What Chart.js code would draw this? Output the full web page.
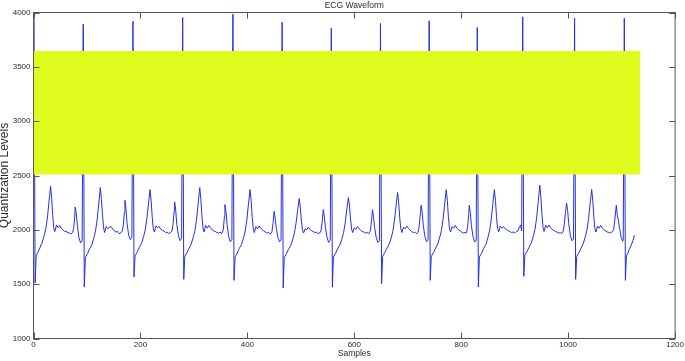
<!DOCTYPE html>
<html>
<head>
<meta charset="utf-8">
<title>ECG Waveform</title>
<script src="https://cdn.jsdelivr.net/npm/chart.js@4.4.1/dist/chart.umd.min.js"></script>
<style>
  html, body { margin: 0; padding: 0; background: #fff; }
  #wrap { width: 685px; height: 361px; }
</style>
</head>
<body>
<div id="wrap"><canvas id="myChart" width="685" height="361"></canvas></div>
<script>
// texts and tick labels
const chartTitle = 'ECG Waveform'
const xTitle = 'Samples'
const yTitle = 'Quantization Levels'
const xTicks = [0, 200, 400, 600, 800, 1000, 1200]
const yTicks = [1000, 1500, 2000, 2500, 3000, 3500, 4000]

// yellow block that hides the upper part of the trace
const boxFrom = 0
const boxTo = 1135
const boxTop = 3645
const boxBottom = 2510

// ECG trace: [sample, level]
const beat01 = [[1,3945],[3,1510],[5,1760],[8,1790],[12,1835],[16,1880],[20,1950],[23,2010],[26,2110],[29,2260],[32,2400],[34,2290],[36,2130],[38,2010],[40,1985],[43,2045],[46,2020],[49,2040],[52,2015],[55,2000],[58,1985],[61,1990],[64,1970],[67,1975],[70,1960],[73,1975],[75,2010],[77,2110],[78,2210],[80,2150],[82,2040],[85,1930],[88,1880],[91,1900]]
const beat02 = [[93,3892],[95,1473],[97,1745],[101,1780],[105,1825],[109,1860],[113,1930],[116,1990],[119,2090],[122,2240],[125,2389],[127,2280],[129,2140],[131,2020],[133,1975],[136,2030],[139,2010],[142,2025],[145,2030],[148,2010],[151,1990],[154,1980],[157,1985],[160,1965],[163,1970],[166,1990],[168,2040],[170,2160],[171,2272],[173,2190],[175,2060],[178,1950],[181,1910],[184,1930]]
const beat03 = [[186,3920],[188,1565],[190,1760],[194,1795],[198,1840],[202,1875],[206,1940],[209,2000],[212,2100],[215,2240],[218,2370],[220,2270],[222,2120],[224,2010],[226,1980],[229,2035],[232,2020],[235,2030],[238,2005],[241,1995],[244,1990],[247,1975],[250,1980],[253,1965],[256,1975],[259,1990],[261,2050],[263,2170],[264,2256],[266,2180],[268,2050],[271,1950],[274,1900],[277,1920]]
const beat04 = [[279,3954],[281,1544],[283,1755],[287,1790],[291,1830],[295,1870],[299,1935],[302,1995],[305,2095],[308,2245],[311,2389],[313,2280],[315,2130],[317,2015],[319,1980],[322,2040],[325,2015],[328,2040],[331,2020],[334,2000],[337,1990],[340,1985],[343,1975],[346,1970],[349,1980],[352,1965],[355,2000],[357,2120],[358,2232],[360,2170],[362,2050],[365,1940],[368,1890],[371,1910]]
const beat05 = [[373,3984],[375,1535],[377,1750],[381,1785],[385,1830],[389,1865],[393,1930],[396,1990],[399,2090],[402,2235],[405,2370],[407,2270],[409,2120],[411,2010],[413,1975],[416,2030],[419,2010],[422,2035],[425,2015],[428,2000],[431,1985],[434,1980],[437,1970],[440,1975],[443,1960],[446,1985],[448,2060],[450,2170],[452,2110],[454,2020],[457,1930],[460,1890],[463,1910]]
const beat06 = [[465,3911],[467,1464],[469,1745],[473,1780],[477,1820],[481,1855],[485,1915],[488,1970],[491,2060],[494,2180],[497,2287],[499,2210],[501,2090],[503,2000],[505,1970],[508,2010],[511,2000],[514,2025],[517,2005],[520,1990],[523,1985],[526,1975],[529,1980],[532,1965],[535,1970],[538,1995],[540,2080],[542,2186],[544,2120],[546,2020],[549,1930],[552,1885],[555,1905]]
const beat07 = [[557,3855],[559,1473],[561,1750],[565,1785],[569,1825],[573,1860],[577,1920],[580,1975],[583,2065],[586,2190],[589,2297],[591,2220],[593,2100],[595,2005],[597,1975],[600,2020],[603,2005],[606,2030],[609,2010],[612,1995],[615,1985],[618,1980],[621,1970],[624,1975],[627,1965],[630,1990],[632,2070],[634,2186],[636,2120],[638,2020],[641,1930],[644,1885],[647,1900]]
const beat08 = [[649,3899],[651,1504],[653,1755],[657,1790],[661,1830],[665,1865],[669,1925],[672,1985],[675,2080],[678,2215],[681,2343],[683,2250],[685,2110],[687,2010],[689,1975],[692,2025],[695,2010],[698,2035],[701,2015],[704,2000],[707,1985],[710,1975],[713,1980],[716,1965],[719,1975],[721,2020],[723,2120],[725,2226],[727,2160],[729,2040],[732,1940],[735,1890],[738,1905]]
const beat09 = [[740,3923],[742,1535],[744,1755],[748,1790],[752,1830],[756,1870],[760,1935],[763,1995],[766,2095],[769,2240],[772,2370],[774,2270],[776,2120],[778,2010],[780,1980],[783,2030],[786,2015],[789,2040],[792,2015],[795,2000],[798,1990],[801,1980],[804,1970],[807,1975],[810,1975],[812,2030],[814,2140],[815,2226],[817,2160],[819,2040],[822,1940],[825,1890],[828,1900]]
const beat10 = [[830,3862],[832,1473],[834,1750],[838,1785],[842,1830],[846,1865],[850,1930],[853,1990],[856,2090],[859,2235],[862,2370],[864,2270],[866,2120],[868,2010],[870,1980],[873,2035],[876,2015],[879,2030],[882,2010],[885,2000],[888,1990],[891,1985],[894,1975],[897,1980],[900,1970],[903,1985],[906,1990],[909,2030],[911,2045],[913,1990]]
const beat11 = [[915,3960],[917,1572],[919,1770],[923,1800],[927,1840],[931,1880],[935,1945],[938,2005],[941,2110],[944,2260],[947,2410],[949,2300],[951,2140],[953,2020],[955,1985],[958,2040],[961,2020],[964,2045],[967,2020],[970,2005],[973,1995],[976,1985],[979,1980],[982,1970],[985,1975],[988,1965],[991,1990],[993,2060],[995,2160],[997,2247],[999,2180],[1001,2060],[1004,1950],[1007,1900],[1010,1915]]
const beat12 = [[1012,3948],[1014,1544],[1016,1755],[1020,1790],[1024,1830],[1028,1870],[1032,1935],[1035,1995],[1038,2095],[1041,2240],[1044,2370],[1046,2270],[1048,2120],[1050,2010],[1052,1980],[1055,2035],[1058,2015],[1061,2040],[1064,2015],[1067,2000],[1070,1990],[1073,1980],[1076,1975],[1079,1970],[1082,1980],[1085,2000],[1087,2080],[1090,2226],[1092,2130],[1094,2085],[1096,2020],[1099,1930],[1102,1895],[1103,1905]]
const beat13 = [[1105,3948],[1107,1535],[1109,1760],[1112,1790],[1115,1830],[1118,1860],[1121,1900],[1124,1950]]

const beats = [beat01, beat02, beat03, beat04, beat05, beat06, beat07, beat08, beat09, beat10, beat11, beat12, beat13]
const ecgPoints = []
beats.forEach(b => b.forEach(p => ecgPoints.push({x: p[0], y: p[1]})))

const fontFamily = '"Liberation Sans", Arial, Helvetica, sans-serif'
const axisColor = '#555'
const textColor = '#2b2b2b'

// matlab style box with inward ticks, plus the title over the plot
const frame = {
  id: 'frame',
  afterDraw(chart) {
    const {ctx, chartArea: a, scales} = chart
    const tick = 6
    ctx.save()
    ctx.strokeStyle = axisColor
    ctx.lineWidth = 1
    ctx.strokeRect(a.left, a.top, a.right - a.left, a.bottom - a.top)
    ctx.beginPath()
    xTicks.forEach(v => {
      const px = Math.round(scales.x.getPixelForValue(v)) + 0.5
      ctx.moveTo(px, a.bottom); ctx.lineTo(px, a.bottom - tick)
      ctx.moveTo(px, a.top); ctx.lineTo(px, a.top + tick)
    })
    yTicks.forEach(v => {
      const py = Math.round(scales.y.getPixelForValue(v)) + 0.5
      ctx.moveTo(a.left, py); ctx.lineTo(a.left + tick, py)
      ctx.moveTo(a.right, py); ctx.lineTo(a.right - tick, py)
    })
    ctx.stroke()

    ctx.fillStyle = textColor
    ctx.font = '8.5px ' + fontFamily
    ctx.textAlign = 'center'
    ctx.textBaseline = 'middle'
    ctx.fillText(chartTitle, (a.left + a.right) / 2, 5.5)
    ctx.restore()
  }
}

const config = {
  data: {
    datasets: [
      {
        type: 'line',
        label: 'mask',
        data: [{x: boxFrom, y: boxTop}, {x: boxTo, y: boxTop}],
        borderWidth: 0,
        borderColor: 'rgba(0,0,0,0)',
        backgroundColor: 'rgb(224,252,30)',
        fill: {value: boxBottom},
        pointRadius: 0,
        order: 1
      },
      {
        type: 'line',
        label: 'ECG',
        data: ecgPoints,
        borderColor: 'rgb(36,48,226)',
        borderWidth: 1,
        pointRadius: 0,
        tension: 0,
        fill: false,
        order: 2
      }
    ]
  },
  options: {
    responsive: false,
    animation: false,
    devicePixelRatio: 1,
    layout: {padding: {left: 0, right: 8.5, top: 12.5, bottom: 0}},
    plugins: {
      legend: {display: false},
      tooltip: {enabled: false},
      title: {display: false}
    },
    scales: {
      x: {
        type: 'linear',
        min: 0,
        max: 1200,
        afterBuildTicks: s => { s.ticks = xTicks.map(v => ({value: v})) },
        afterFit: s => { s.height = 22.5 },
        ticks: {
          autoSkip: false, maxRotation: 0, padding: 1, color: textColor,
          font: {family: fontFamily, size: 8},
          callback: v => String(v)
        },
        grid: {display: false, drawTicks: false},
        border: {display: false},
        title: {display: true, text: xTitle, color: textColor, padding: {top: 0, bottom: 2.5}, font: {family: fontFamily, size: 8.5}}
      },
      y: {
        type: 'linear',
        min: 1000,
        max: 4000,
        afterBuildTicks: s => { s.ticks = yTicks.map(v => ({value: v})) },
        afterFit: s => { s.width = 33.5 },
        ticks: {
          autoSkip: false, padding: 3, color: textColor,
          font: {family: fontFamily, size: 8},
          callback: v => String(v)
        },
        grid: {display: false, drawTicks: false},
        border: {display: false},
        title: {display: true, text: yTitle, color: textColor, padding: {top: -1, bottom: 0}, font: {family: fontFamily, size: 12, lineHeight: 1}}
      }
    }
  },
  plugins: [frame]
}

const myChart = new Chart(document.getElementById('myChart'), config)
</script>
</body>
</html>
